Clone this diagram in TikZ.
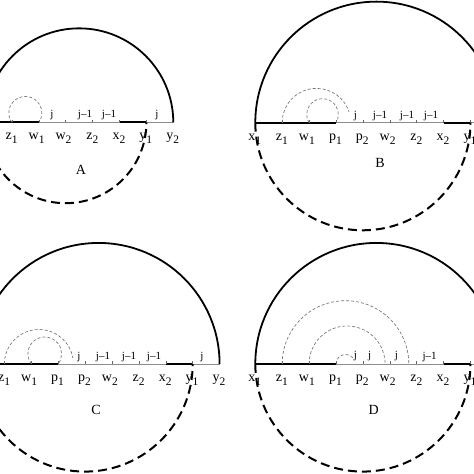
\documentclass[tikz,border=0pt]{standalone}
\usepackage{fontspec}
\setmainfont{Liberation Serif}
\usetikzlibrary{calc}
\newcommand\plab[2]{\llap{#1}\rlap{\raisebox{-4pt}{\fontsize{11.5}{11.5}\selectfont #2}}}
\begin{document}
\begin{tikzpicture}[x=1pt,y=1pt,
  bigarc/.style={line width=1.8pt},
  lowarc/.style={line width=2pt,dash pattern=on 9pt off 5pt},
  thickseg/.style={line width=2pt},
  thinseg/.style={line width=0.7pt,black!45},
  smallarc/.style={line width=0.65pt,black!55,dash pattern=on 3pt off 2pt},
  tickmark/.style={line width=0.5pt,black!60},
  pl/.style={anchor=base,inner sep=0pt,font=\fontsize{14}{14}\selectfont},
  jl/.style={anchor=base,inner sep=0pt,font=\fontsize{11}{11}\selectfont},
  panel/.style={inner sep=0pt,font=\fontsize{14}{14}\selectfont}]
\useasboundingbox (0,0) rectangle (474,474);
\clip (0,0) rectangle (474,474);

% ---------------- Panel A ----------------
\foreach \n [count=\i from 0] in {x1,z1,w1,w2,z2,x2,y1,y2}
  {\coordinate (A-\n) at ({-15+\i*26.9},351.5);}
\draw[thinseg] (A-x1) -- (A-y2);
\draw[thickseg] (A-x1) -- (A-w1);
\draw[thickseg] (A-x2) -- (A-y1);
\foreach \n in {z1,w1,w2,z2,x2,y1} \draw[tickmark] (A-\n) -- ++(0,2.5);
\draw[bigarc] (A-x1) arc[start angle=180,end angle=0,radius=94.15];
\draw[lowarc] (A-x1) arc[start angle=180,end angle=360,radius=80.7];
\draw[smallarc] (A-z1) arc[start angle=215.3,end angle=-35.3,radius=16.5];
\foreach \n/\a/\b in {z1/z/1,w1/w/1,w2/w/2,z2/z/2,x2/x/2,y1/y/1,y2/y/2}
  \node[pl] (A-L\n) at ([yshift=-17.5pt]A-\n) {\plab{\a}{\b}};
\node[jl] (A-j1) at (52,356) {j};
\node[jl] (A-j2) at (85,356) {j–1};
\node[jl] (A-j3) at (109,356) {j–1};
\node[jl] (A-j4) at (157,356) {j};
\node[panel] (A-name) at (81,304) {A};

% ---------------- Panel B ----------------
\foreach \n [count=\i from 0] in {x1,z1,w1,p1,p2,w2,z2,x2,y1,y2}
  {\coordinate (B-\n) at ({255.3+\i*26.9},351.3);}
\draw[thinseg] (B-x1) -- (B-y2);
\draw[thickseg] (B-x1) -- (B-p1);
\draw[thickseg] (B-x2) -- (B-y1);
\foreach \n in {z1,w1,p1,p2,w2,z2,x2,y1} \draw[tickmark] (B-\n) -- ++(0,2.5);
\draw[bigarc] (B-x1) arc[start angle=180,end angle=0,radius=121.05];
\draw[lowarc] (B-x1) arc[start angle=180,end angle=360,radius=107.6];
\draw[smallarc] (B-z1) arc[start angle=180,end angle=18,radius=34.3];
\draw[smallarc] (B-w1) arc[start angle=211.5,end angle=-31.5,radius=15.77];
\foreach \n/\a/\b in {x1/x/1,z1/z/1,w1/w/1,p1/p/1,p2/p/2,w2/w/2,z2/z/2,x2/x/2,y1/y/1}
  \node[pl] (B-L\n) at ([yshift=-17.5pt]B-\n) {\plab{\a}{\b}};
\node[jl] (B-j1) at (355.3,355.8) {j};
\node[jl] (B-j2) at (380,355.8) {j–1};
\node[jl] (B-j3) at (407,355.8) {j–1};
\node[jl] (B-j4) at (431,355.8) {j–1};
\node[panel] (B-name) at (380,311) {B};

% ---------------- Panel C ----------------
\foreach \n [count=\i from 0] in {x1,z1,w1,p1,p2,w2,z2,x2,y1,y2}
  {\coordinate (C-\n) at ({-22.5+\i*26.9},110);}
\draw[thinseg] (C-x1) -- (C-y2);
\draw[thickseg] (C-x1) -- (C-p1);
\draw[thickseg] (C-x2) -- (C-y1);
\foreach \n in {z1,w1,p1,p2,w2,z2,x2,y1} \draw[tickmark] (C-\n) -- ++(0,2.5);
\draw[bigarc] (C-x1) arc[start angle=180,end angle=0,radius=121.05];
\draw[lowarc] (C-x1) arc[start angle=180,end angle=360,radius=107.6];
\draw[smallarc] (C-z1) arc[start angle=180,end angle=10,radius=34.5];
\draw[smallarc] (C-w1) arc[start angle=217,end angle=-37,radius=16.85];
\foreach \n/\a/\b in {z1/z/1,w1/w/1,p1/p/1,p2/p/2,w2/w/2,z2/z/2,x2/x/2,y1/y/1,y2/y/2}
  \node[pl] (C-L\n) at ([yshift=-17.5pt]C-\n) {\plab{\a}{\b}};
\node[jl] (C-j1) at (79,114.5) {j};
\node[jl] (C-j2) at (103,114.5) {j–1};
\node[jl] (C-j3) at (129,114.5) {j–1};
\node[jl] (C-j4) at (154,114.5) {j–1};
\node[jl] (C-j5) at (202,114.5) {j};
\node[panel] (C-name) at (96,64) {C};

% ---------------- Panel D ----------------
\foreach \n [count=\i from 0] in {x1,z1,w1,p1,p2,w2,z2,x2,y1,y2}
  {\coordinate (D-\n) at ({255.3+\i*26.9},110);}
\draw[thinseg] (D-x1) -- (D-y2);
\draw[thickseg] (D-x1) -- (D-p1);
\draw[thickseg] (D-x2) -- (D-y1);
\foreach \n in {z1,w1,p1,p2,w2,z2,x2,y1} \draw[tickmark] (D-\n) -- ++(0,2.5);
\draw[bigarc] (D-x1) arc[start angle=180,end angle=0,radius=121.05];
\draw[lowarc] (D-x1) arc[start angle=180,end angle=360,radius=107.6];
\draw[smallarc] (D-z1) arc[start angle=180,end angle=0,radius=63.3];
\draw[smallarc] (D-w1) arc[start angle=180,end angle=0,radius=38];
\draw[smallarc] (D-p1) arc[start angle=180,end angle=25,radius=9.5];
\foreach \n/\a/\b in {x1/x/1,z1/z/1,w1/w/1,p1/p/1,p2/p/2,w2/w/2,z2/z/2,x2/x/2,y1/y/1}
  \node[pl] (D-L\n) at ([yshift=-17.5pt]D-\n) {\plab{\a}{\b}};
\node[jl] (D-j1) at (355.3,115.5) {j};
\node[jl] (D-j2) at (369.7,115.5) {j};
\node[jl] (D-j3) at (396.3,115.5) {j};
\node[jl] (D-j4) at (429.7,114.5) {j–1};
\node[panel] (D-name) at (373.7,63.7) {D};
\end{tikzpicture}
\end{document}
